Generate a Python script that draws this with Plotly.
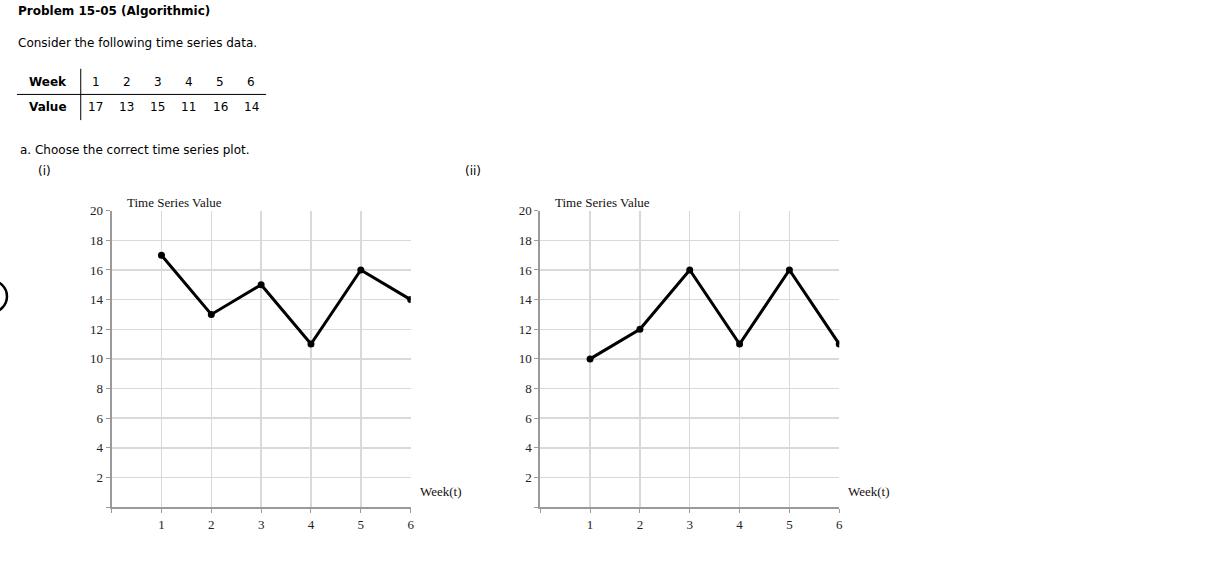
import plotly.graph_objects as go

W, H = 1222, 578
DX, DY = 0, 4.5  # measured offset of the drawing inside the browser window

weeks = [1, 2, 3, 4, 5, 6]
table_values = [17, 13, 15, 11, 16, 14]
plot_i_values = [17, 13, 15, 11, 16, 14]
plot_ii_values = [10, 12, 16, 11, 16, 11]
y_tick_vals = [0, 2, 4, 6, 8, 10, 12, 14, 16, 18, 20]
y_tick_text = [""] + [str(v) for v in y_tick_vals[1:]]
x_tick_vals = [0, 1, 2, 3, 4, 5, 6]
x_tick_text = [""] + [str(v) for v in x_tick_vals[1:]]


def px(x):
    return (x - DX) / W


def py(y):
    return 1 - (y - DY) / H


fig = go.Figure()

line_style = dict(color="black", width=3)
marker_style = dict(color="black", size=7)

fig.add_trace(go.Scatter(x=weeks, y=plot_i_values, mode="lines+markers",
                         line=line_style, marker=marker_style,
                         xaxis="x", yaxis="y", showlegend=False))
fig.add_trace(go.Scatter(x=weeks, y=plot_ii_values, mode="lines+markers",
                         line=line_style, marker=marker_style,
                         xaxis="x2", yaxis="y2", showlegend=False))

serif = "Liberation Serif"
sans = "DejaVu Sans"

axis_common = dict(
    showline=True, linecolor="#9a9a9a", linewidth=2,
    showgrid=True, gridcolor="#d9d9d9", gridwidth=1.5,
    zeroline=False, ticks="outside", ticklen=4, tickcolor="#9a9a9a",
    tickwidth=1, tickfont=dict(family=serif, size=13, color="#222"),
    fixedrange=True,
)

x_common = dict(axis_common, range=[0, 6], tickmode="array",
                tickvals=x_tick_vals, ticktext=x_tick_text)
y_common = dict(axis_common, range=[0, 20], tickmode="array",
                tickvals=y_tick_vals, ticktext=y_tick_text)

y_dom = [py(510.7), py(210.7)]
fig.update_layout(
    width=W, height=H,
    margin=dict(l=0, r=0, t=0, b=0),
    paper_bgcolor="white", plot_bgcolor="white",
    xaxis=dict(x_common, domain=[px(112), px(412)], anchor="y"),
    yaxis=dict(y_common, domain=y_dom, anchor="x"),
    xaxis2=dict(x_common, domain=[px(542), px(842)], anchor="y2"),
    yaxis2=dict(y_common, domain=y_dom, anchor="x2"),
    hovermode=False,
)

annotations = []


def text(x, y, s, size=12, bold=False, family=sans, anchor="left", color="#000"):
    annotations.append(dict(
        x=px(x), y=py(y), xref="paper", yref="paper", text=f"<b>{s}</b>" if bold else s,
        showarrow=False, xanchor=anchor, yanchor="middle",
        font=dict(family=family, size=size, color=color)))


text(16, 9, "Problem 15-05 (Algorithmic)", bold=True)
text(16, 41, "Consider the following time series data.")

# table
text(69, 80, "Week", bold=True, anchor="right")
text(69, 106, "Value", bold=True, anchor="right")
col0, col_step = 96, 31.2
for i, (w, v) in enumerate(zip(weeks, table_values)):
    text(col0 + i * col_step, 80, str(w), anchor="center")
    text(col0 + i * col_step, 106, str(v), anchor="center")

text(18, 149, "a. Choose the correct time series plot.")
text(36, 171, "(i)")
text(465, 171, "(ii)")

# chart labels
for x0 in (112, 542):
    text(x0 + 13, 202, "Time Series Value", size=13, family=serif, color="#111")
    text(x0 + 307, 495, "Week(t)", size=13, family=serif, color="#111")

fig.update_layout(annotations=annotations)

shapes = [
    dict(type="line", xref="paper", yref="paper", x0=px(81), x1=px(81),
         y0=py(67), y1=py(119), line=dict(color="black", width=1)),
    dict(type="line", xref="paper", yref="paper", x0=px(17), x1=px(267),
         y0=py(93), y1=py(93), line=dict(color="black", width=1)),
    # partially visible radio circle at the left edge
    dict(type="circle", xref="paper", yref="paper",
         x0=px(-27), x1=px(7), y0=py(314), y1=py(281),
         line=dict(color="black", width=2.5)),
]
fig.update_layout(shapes=shapes)

fig.write_html(
    "out.html",
    config={"displayModeBar": False, "staticPlot": True},
    post_script="document.documentElement.style.margin='0';"
                "document.body.style.margin='0';document.body.style.padding='0';"
                "document.body.style.overflow='hidden';"
                "var gd=document.getElementById('{plot_id}');"
                "gd.style.position='absolute';gd.style.top='0px';gd.style.left='0px';",
)
